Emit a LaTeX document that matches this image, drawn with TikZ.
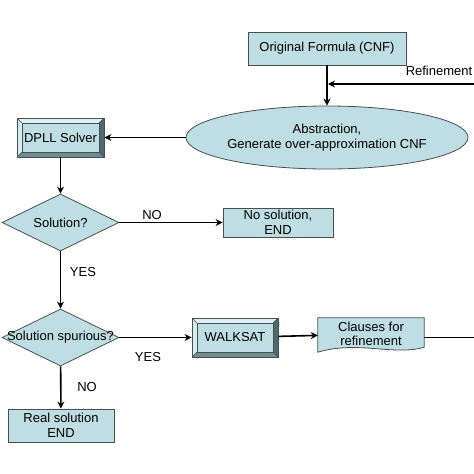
\documentclass[tikz,border=0pt]{standalone}
\usepackage{fontspec}
\setmainfont{Liberation Sans}
\usepackage{tikz}
\usetikzlibrary{
    arrows.meta,
    positioning,
    shapes.geometric,
    backgrounds
}
\definecolor{boxfill}{RGB}{190,222,227}
\definecolor{boxline}{RGB}{70,80,82}
\definecolor{bevellight}{RGB}{222,240,242}
\definecolor{beveldark}{RGB}{110,140,145}
\definecolor{beveldarker}{RGB}{80,105,110}

\begin{document}
\begin{tikzpicture}[
        x=1pt, y=-1pt,
        >={Stealth[length=7pt,width=7pt]},
        every node/.style={
            font=\fontsize{13}{14.5}\selectfont
        },
        box/.style={
            rectangle,
            draw=boxline,
            line width=0.8pt,
            fill=boxfill,
            align=center,
            inner sep=0pt
        },
        bevelbox/.style={
            box,
            path picture={
                \coordinate (bnw) at (path picture bounding box.north west);
                \coordinate (bne) at (path picture bounding box.north east);
                \coordinate (bsw) at (path picture bounding box.south west);
                \coordinate (bse) at (path picture bounding box.south east);
                \fill[bevellight] (bnw) -- (bne) -- ([shift={(-5,5)}]bne)
                    -- ([shift={(5,5)}]bnw) -- cycle;
                \fill[bevellight!80!boxfill] (bnw) -- ([shift={(5,5)}]bnw)
                    -- ([shift={(5,-5)}]bsw) -- (bsw) -- cycle;
                \fill[beveldarker] (bne) -- (bse) -- ([shift={(-5,-5)}]bse)
                    -- ([shift={(-5,5)}]bne) -- cycle;
                \fill[beveldark] (bsw) -- (bse) -- ([shift={(-5,-5)}]bse)
                    -- ([shift={(5,-5)}]bsw) -- cycle;
                \draw[boxline, line width=0.6pt]
                    ([shift={(5,5)}]bnw) rectangle ([shift={(-5,-5)}]bse);
                \draw[boxline, line width=0.4pt]
                    (bnw) -- ([shift={(5,5)}]bnw)
                    (bne) -- ([shift={(-5,5)}]bne)
                    (bsw) -- ([shift={(5,-5)}]bsw)
                    (bse) -- ([shift={(-5,-5)}]bse);
            }
        },
        decision/.style={
            diamond,
            draw=boxline,
            line width=0.8pt,
            fill=boxfill,
            inner sep=0pt,
            minimum width=117pt,
            minimum height=57pt
        },
        flow/.style={
            ->,
            line width=1.6pt
        },
        tag/.style={
            inner sep=1pt
        }
    ]
        \useasboundingbox (0,0) rectangle (474,474);
        \clip (0,0) rectangle (474,474);

        % boxes
        \node[box, minimum width=158pt, minimum height=33pt] (orig) at (327,48.5)
            {Original Formula (CNF)};
        \node[ellipse, draw=boxline, line width=0.8pt, fill=boxfill, align=center,
              inner sep=0pt, minimum width=212pt, minimum height=63pt] (abstr) at (327,137.5)
            {Abstraction,\\Generate over-approximation CNF};
        \node[bevelbox, minimum width=87pt, minimum height=39pt] (dpll) at (60.5,137.5)
            {DPLL Solver};
        \node[decision] (sol) at (60.5,222.5) {\makebox[0pt]{Solution?}};
        \node[box, minimum width=110pt, minimum height=29pt] (nosol) at (278,222.5)
            {No solution,\\END};
        \node[decision] (spur) at (60.5,337.5) {\makebox[0pt]{Solution spurious?}};
        \node[bevelbox, minimum width=86pt, minimum height=39pt] (walk) at (235,337.5)
            {WALKSAT};
        \node[align=center, inner sep=0pt, minimum width=106pt, minimum height=32pt]
            (clauses) at (371,334) {Clauses for\\refinement};
        \node[box, minimum width=106pt, minimum height=33pt] (real) at (61,425.5)
            {Real solution\\END};

        % document shape behind the clauses text
        \begin{scope}[on background layer]
            \draw[boxline, line width=0.8pt, fill=boxfill]
                (clauses.north west) -- (clauses.north east)
                -- ([yshift=3pt]clauses.south east)
                .. controls ([shift={(-30,6)}]clauses.south east)
                and ([shift={(40,-10)}]clauses.south west)
                .. ([yshift=-2pt]clauses.south west) -- cycle;
        \end{scope}

        % labels
        \node[tag] (reflbl) at (439,71) {Refinement};
        \node[tag] (nolbl) at (152,215) {NO};
        \node[tag] (yeslbl) at (83,272) {YES};
        \node[tag] (yeslbl2) at (148,357) {YES};
        \node[tag] (nolbl2) at (87,387) {NO};

        % connectors
        \coordinate (loop) at (482,337.5);
        \coordinate (join) at (328,84);
        \draw[flow] (orig) -- (abstr);
        \draw[flow] (abstr) -- (dpll);
        \draw[flow] (dpll) -- (sol);
        \draw[flow] (sol) -- (nosol);
        \draw[flow] (sol) -- (spur);
        \draw[flow] (spur) -- (walk);
        \draw[flow] (spur) -- (real);
        \draw[flow] (walk) -- (clauses);
        \draw[flow] (clauses.east |- loop) -- (loop) |- (join);
    \end{tikzpicture}
\end{document}
